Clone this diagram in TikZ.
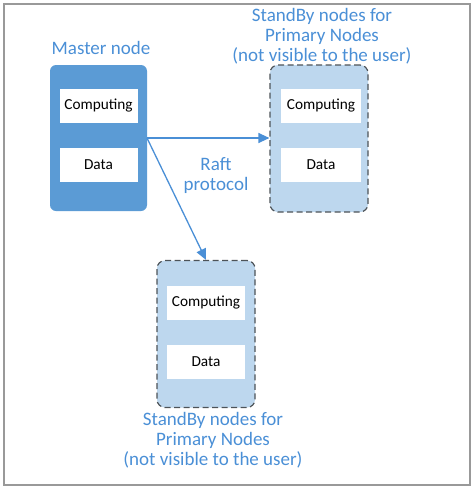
\documentclass[tikz,border=0pt]{standalone}
\usepackage{fontspec}
\setmainfont{Carlito}
\usetikzlibrary{arrows.meta}
\definecolor{mblue}{HTML}{5B9BD5}
\definecolor{lblue}{HTML}{BDD7EE}
\definecolor{tblue}{HTML}{4A8FD6}
\definecolor{dgray}{HTML}{4D5358}
\tikzset{
  master/.style={draw=none, fill=mblue, rounded corners=6pt, minimum width=97pt, minimum height=146pt, inner sep=0pt},
  standby/.style={draw=dgray, dash pattern=on 6pt off 3.5pt, line width=1.2pt, fill=lblue, rounded corners=8pt, minimum width=98pt, minimum height=147pt, inner sep=0pt},
  inner/.style={fill=white, draw=none, minimum width=78pt, minimum height=34pt, inner sep=0pt, font=\fontsize{15.3}{17}\selectfont, text=black},
  lbl/.style={text=tblue, font=\fontsize{19}{20}\selectfont, align=center, inner sep=0pt},
  conn/.style={draw=tblue, line width=1.3pt, -{Triangle[length=11pt,width=10pt]}},
}
\begin{document}
\begin{tikzpicture}[x=1pt,y=-1pt]
\useasboundingbox (0,0) rectangle (474,488);
\draw[draw=gray!80, line width=1.5pt] (4,4) rectangle (470,485);
% master
\node[master] (m) at (98.5,138) {};
\node[inner] (mc) at (98.5,105.5) {Computing};
\node[inner] (md) at (98.5,165) {Data};
\node[lbl] (ml) at (101,48) {Master node};
% right standby
\node[standby] (r) at (319,138.5) {};
\node[inner, minimum width=80pt] (rc) at (321,106) {Computing};
\node[inner, minimum width=80pt] (rd) at (321,165) {Data};
\node[lbl] (rl) at (322,36) {StandBy nodes for\\Primary Nodes\\(not visible to the user)};
% bottom standby
\node[standby] (b) at (206,334) {};
\node[inner] (bc) at (206,303) {Computing};
\node[inner] (bd) at (206,362) {Data};
\node[lbl] (bl) at (213,440) {StandBy nodes for\\Primary Nodes\\(not visible to the user)};
% connectors
\coordinate (src) at (147,138);
\draw[conn] (src) -- (r.west |- src);
\draw[conn] (src) -- (b.north);
\node[lbl] (raft) at (216,176) {Raft\\protocol};
\end{tikzpicture}
\end{document}
